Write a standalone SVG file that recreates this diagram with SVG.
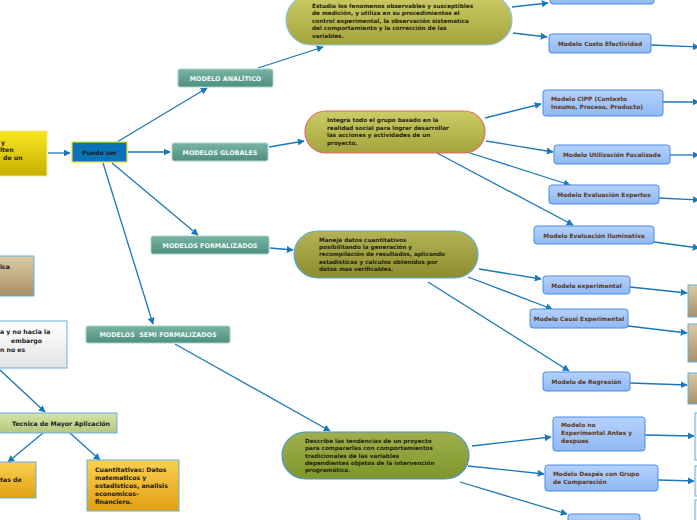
<svg xmlns="http://www.w3.org/2000/svg" width="697" height="520" viewBox="0 0 697 520">
<defs>
<linearGradient id="gTeal" x1="0" y1="0" x2="0" y2="1"><stop offset="0" stop-color="#78b4a4"/><stop offset="1" stop-color="#4f8f7f"/></linearGradient>
<linearGradient id="gOlive" x1="0" y1="0" x2="0" y2="1"><stop offset="0" stop-color="#cccc66"/><stop offset="1" stop-color="#a4a43c"/></linearGradient>
<linearGradient id="gOlive2" x1="0" y1="0" x2="0" y2="1"><stop offset="0" stop-color="#b4b456"/><stop offset="1" stop-color="#8c8c2e"/></linearGradient>
<linearGradient id="gGreen" x1="0" y1="0" x2="0" y2="1"><stop offset="0" stop-color="#9fb04a"/><stop offset="1" stop-color="#7f962c"/></linearGradient>
<linearGradient id="gBlue" x1="0" y1="0" x2="0" y2="1"><stop offset="0" stop-color="#b6d2fb"/><stop offset="1" stop-color="#8fb8f4"/></linearGradient>
<linearGradient id="gYellow" x1="0" y1="0" x2="0" y2="1"><stop offset="0" stop-color="#f8e620"/><stop offset="1" stop-color="#c8b000"/></linearGradient>
<linearGradient id="gTan" x1="0" y1="0" x2="0" y2="1"><stop offset="0" stop-color="#dccaa4"/><stop offset="1" stop-color="#a89068"/></linearGradient>
<linearGradient id="gWhite" x1="0" y1="0" x2="0" y2="1"><stop offset="0" stop-color="#ffffff"/><stop offset="1" stop-color="#e4e4e4"/></linearGradient>
<linearGradient id="gLgreen" x1="0" y1="0" x2="0" y2="1"><stop offset="0" stop-color="#d4e2a8"/><stop offset="1" stop-color="#b4c880"/></linearGradient>
<linearGradient id="gOrange" x1="0" y1="0" x2="0" y2="1"><stop offset="0" stop-color="#fbd050"/><stop offset="1" stop-color="#e0a014"/></linearGradient>
<marker id="ah" viewBox="0 0 10 10" refX="9" refY="5" markerWidth="7" markerHeight="7" markerUnits="userSpaceOnUse" orient="auto"><path d="M0,0 L10,5 L0,10 z" fill="#1a78b8"/></marker>
</defs>
<style>
.c{stroke:#1a78b8;stroke-width:1.3;fill:none;marker-end:url(#ah)}
.cn{stroke:#1a78b8;stroke-width:1.3;fill:none}
.teal{fill:url(#gTeal);stroke:#a8d4c8;stroke-width:1}
.tt{font-family:"DejaVu Sans",Verdana,sans-serif;font-weight:bold;font-size:6.4px;fill:#eef8f4;text-anchor:middle}
.blue{fill:url(#gBlue);stroke:#4a8ae4;stroke-width:1}
.bt{font-family:"DejaVu Sans",Verdana,sans-serif;font-weight:bold;font-size:5.9px;fill:#5a3818}
.et{font-family:"DejaVu Sans",Verdana,sans-serif;font-weight:bold;font-size:5.7px;fill:#1e1e10}
.dt{font-family:"DejaVu Sans",Verdana,sans-serif;font-weight:bold;font-size:6.2px;fill:#1a1a1a}
.lb{stroke:#60b0e4;stroke-width:1}
</style>
<g id="connectors">
<line class="c" x1="48" y1="153" x2="70" y2="153"/>
<line class="c" x1="117" y1="142" x2="207" y2="88"/>
<line class="c" x1="128" y1="152" x2="170" y2="152"/>
<line class="c" x1="112" y1="163" x2="198" y2="235"/>
<line class="c" x1="103" y1="163" x2="153" y2="324"/>
<line class="c" x1="258" y1="68" x2="323" y2="47"/>
<line class="c" x1="269" y1="147" x2="304" y2="141"/>
<line class="c" x1="270" y1="248" x2="293" y2="250"/>
<line class="c" x1="175" y1="344" x2="330" y2="431"/>
<line class="c" x1="512" y1="7" x2="548" y2="3"/>
<line class="c" x1="513" y1="33" x2="547" y2="37"/>
<line class="c" x1="651" y1="45" x2="699" y2="47"/>
<line class="c" x1="485" y1="118" x2="541" y2="104"/>
<line class="c" x1="486" y1="141" x2="553" y2="152"/>
<line class="c" x1="467" y1="152" x2="570" y2="185"/>
<line class="c" x1="437" y1="153" x2="573" y2="225"/>
<line class="c" x1="663" y1="102" x2="699" y2="102"/>
<line class="c" x1="670" y1="155" x2="699" y2="155"/>
<line class="c" x1="659" y1="198" x2="699" y2="200"/>
<line class="c" x1="654" y1="242" x2="699" y2="248"/>
<line class="c" x1="479" y1="269" x2="541" y2="279"/>
<line class="c" x1="468" y1="277" x2="552" y2="309"/>
<line class="c" x1="428" y1="282" x2="569" y2="371"/>
<line class="c" x1="630" y1="287" x2="687" y2="293"/>
<line class="c" x1="628" y1="326" x2="687" y2="333"/>
<line class="c" x1="630" y1="383" x2="687" y2="385"/>
<line class="c" x1="472" y1="446" x2="551" y2="437"/>
<line class="c" x1="468" y1="466" x2="544" y2="474"/>
<line class="c" x1="460" y1="482" x2="567" y2="514"/>
<line class="c" x1="645" y1="435" x2="694" y2="436"/>
<line class="c" x1="658" y1="480" x2="694" y2="481"/>
<line class="c" x1="0" y1="370" x2="45" y2="412"/>
<line class="c" x1="43" y1="433" x2="8" y2="462"/>
<line class="c" x1="70" y1="433" x2="100" y2="460"/>
</g>
<g id="n-yellow"><rect x="-5" y="131" width="52" height="45" fill="url(#gYellow)" stroke="#f0e890" stroke-width="1"/>
<text class="dt"><tspan x="1" y="145">y</tspan><tspan x="0" y="152">lten</tspan><tspan x="3" y="160">de un</tspan></text></g>
<g id="n-puede"><rect x="72" y="142" width="55" height="20" fill="#0a74b8" stroke="#e8e020" stroke-width="1.2"/>
<text class="dt" x="99.5" y="154.5" text-anchor="middle" fill="#0a0a0a">Puede ser</text></g>
<g id="n-analitico"><rect class="teal" x="178" y="69" width="95" height="18" rx="2"/><text class="tt" x="225.5" y="80.5">MODELO ANALÍTICO</text></g>
<g id="n-globales"><rect class="teal" x="172" y="143" width="96" height="18" rx="2"/><text class="tt" x="220" y="154.5">MODELOS GLOBALES</text></g>
<g id="n-formalizados"><rect class="teal" x="151" y="236" width="118" height="18" rx="2"/><text class="tt" x="210" y="247.5">MODELOS FORMALIZADOS</text></g>
<g id="n-semi"><rect class="teal" x="86" y="326" width="144" height="17" rx="2"/><text class="tt" x="158" y="337" xml:space="preserve">MODELOS  SEMI FORMALIZADOS</text></g>
<g id="n-e1"><rect x="286" y="-5" width="226" height="50" rx="25" fill="url(#gOlive)" stroke="#8cc4e8" stroke-width="1.2"/>
<text class="et"><tspan x="312" y="8">Estudia los fenomenos observables y susceptibles</tspan><tspan x="312" y="15">de medición, y utiliza en su procedimientos el</tspan><tspan x="312" y="22.5">control experimental, la observación sistematica</tspan><tspan x="312" y="30">del comportamiento y la corrección de las</tspan><tspan x="312" y="38">variables.</tspan></text></g>
<g id="n-e2"><rect x="305" y="111" width="180" height="42" rx="21" fill="url(#gOlive)" stroke="#e06a6a" stroke-width="1.2"/>
<text class="et"><tspan x="327" y="122">Integra todo el grupo basado en la</tspan><tspan x="327" y="129.5">realidad social para lograr desarrollar</tspan><tspan x="327" y="137">las acciones y actividades de un</tspan><tspan x="327" y="145">proyecto.</tspan></text></g>
<g id="n-e3"><rect x="294" y="231" width="184" height="47" rx="23.5" fill="url(#gOlive2)" stroke="#5aaae8" stroke-width="1.2"/>
<text class="et"><tspan x="319" y="242">Maneja datos cuantitativos</tspan><tspan x="319" y="249">posibilitando la generación y</tspan><tspan x="319" y="256">recompilación de resultados, aplicando</tspan><tspan x="319" y="263.5">estadisticas y calculos obtenidos por</tspan><tspan x="319" y="271">datos mas verificables.</tspan></text></g>
<g id="n-e4"><rect x="282" y="432" width="187" height="47" rx="23.5" fill="url(#gGreen)" stroke="#4a94d8" stroke-width="1.2"/>
<text class="et"><tspan x="305" y="443">Describe las tendencias de un proyecto</tspan><tspan x="305" y="450">para compararlas con comportamientos</tspan><tspan x="305" y="457.5">tradicionales de las variables</tspan><tspan x="305" y="465">dependientes objetos de la intervención</tspan><tspan x="305" y="472">programática.</tspan></text></g>
<g id="n-top"><rect class="blue" x="550" y="-10" width="104" height="14" rx="3"/></g>
<g id="n-costo"><rect class="blue" x="549" y="34" width="102" height="19" rx="3"/><text class="bt" x="600" y="46" text-anchor="middle">Modelo Costo Efectividad</text></g>
<g id="n-cipp"><rect class="blue" x="543" y="90" width="120" height="26" rx="3"/><text class="bt"><tspan x="551" y="101">Modelo CIPP (Contexto</tspan><tspan x="551" y="109">Insumo, Proceso, Producto)</tspan></text></g>
<g id="n-util"><rect class="blue" x="554" y="145" width="116" height="19" rx="3"/><text class="bt" x="612" y="157" text-anchor="middle">Modelo Utilización Focalizada</text></g>
<g id="n-exp"><rect class="blue" x="549" y="185" width="110" height="19" rx="3"/><text class="bt" x="604" y="197" text-anchor="middle">Modelo Evaluación Expertos</text></g>
<g id="n-ilum"><rect class="blue" x="534" y="226" width="120" height="18" rx="3"/><text class="bt" x="594" y="237.5" text-anchor="middle">Modelo Evaluación Iluminativa</text></g>
<g id="n-experimental"><rect class="blue" x="543" y="276" width="87" height="18" rx="3"/><text class="bt" x="586.5" y="287.5" text-anchor="middle">Modelo experimental</text></g>
<g id="n-causi"><rect class="blue" x="530" y="309" width="98" height="19" rx="3"/><text class="bt" x="579" y="321" text-anchor="middle">Modelo Causi Experimental</text></g>
<g id="n-regresion"><rect class="blue" x="543" y="372" width="87" height="19" rx="3"/><text class="bt" x="586.5" y="384" text-anchor="middle">Modelo de Regresión</text></g>
<g id="n-noexp"><rect class="blue" x="553" y="417" width="92" height="34" rx="3"/><text class="bt"><tspan x="561" y="427">Modelo no</tspan><tspan x="561" y="435">Experimental Antes y</tspan><tspan x="561" y="443">despues</tspan></text></g>
<g id="n-despues"><rect class="blue" x="545" y="465" width="113" height="26" rx="3"/><text class="bt"><tspan x="553" y="476">Modelo Despés con Grupo</tspan><tspan x="553" y="484">de Comparación</tspan></text></g>
<g id="n-bottom"><rect class="blue" x="568" y="514" width="72" height="14" rx="3"/></g>
<g id="n-tan1"><rect x="688" y="285" width="15" height="32" fill="url(#gTan)" class="lb"/></g>
<g id="n-tan2"><rect x="688" y="324" width="15" height="38" fill="url(#gTan)" class="lb"/></g>
<g id="n-tan3"><rect x="688" y="373" width="15" height="31" fill="url(#gTan)" class="lb"/></g>
<g id="n-r1"><rect x="695" y="413" width="10" height="47" fill="#eef4fa" class="lb"/></g>
<g id="n-r2"><rect x="695" y="466" width="10" height="30" fill="#eef4fa" class="lb"/></g>
<g id="n-r3"><rect x="695" y="500" width="10" height="25" fill="#eef4fa" class="lb"/></g>
<g id="n-tanleft"><rect x="-5" y="256" width="39" height="40" fill="url(#gTan)" class="lb"/><text class="dt" x="0" y="269" font-size="7px">ica</text></g>
<g id="n-white"><rect x="-5" y="321" width="72" height="47" fill="url(#gWhite)" class="lb"/>
<text class="dt"><tspan x="0" y="334">a y no hacia la</tspan><tspan x="11" y="343">embargo</tspan><tspan x="0" y="352">n no es</tspan></text></g>
<g id="n-tecnica"><rect x="-5" y="413" width="122" height="20" fill="url(#gLgreen)" class="lb"/><text class="dt" x="61" y="425.5" text-anchor="middle" fill="#30301a" font-size="6px">Tecnica de Mayor Aplicación</text></g>
<g id="n-or1"><rect x="-5" y="462" width="41" height="36" fill="url(#gOrange)" class="lb"/><text class="dt" x="0" y="482">tas de</text></g>
<g id="n-or2"><rect x="87" y="460" width="92" height="51" fill="url(#gOrange)" class="lb"/>
<text class="dt"><tspan x="95" y="472">Cuantitativas: Datos</tspan><tspan x="95" y="480">matematicos y</tspan><tspan x="95" y="488">estadisticos, analisis</tspan><tspan x="95" y="496">economicos-</tspan><tspan x="95" y="504">financiero.</tspan></text></g>
</svg>
